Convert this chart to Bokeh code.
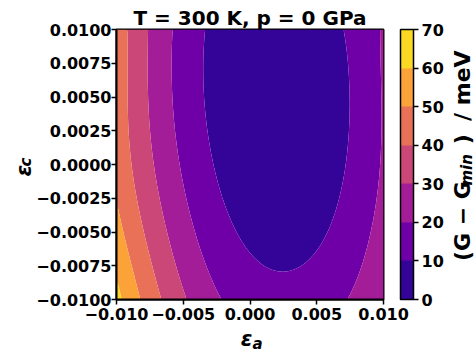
import math
import numpy as np
from bokeh.plotting import figure
from bokeh.layouts import row, column
from bokeh.models import FixedTicker, LinearColorMapper, ColorBar, Range1d
from bokeh.palettes import Plasma256
from bokeh.core.properties import value
from bokeh.embed import file_html
from bokeh.resources import INLINE

# ---- data (G - Gmin in meV on a coarse strain grid) ----
eps_a = [-0.01, -0.0075, -0.005, -0.0025, 0.0, 0.0025, 0.005, 0.0075, 0.01]
eps_c = [-0.01, -0.005, 0.0, 0.005, 0.01]
dG_c_m0100 = [63.0, 45.5, 30.8, 21.4, 15.3, 13.1, 15.0, 20.8, 28.8]
dG_c_m0050 = [53.5, 37.4, 23.8, 14.0, 8.1, 6.3, 8.4, 14.5, 24.0]
dG_c_p0000 = [47.3, 31.8, 18.7, 9.2, 3.6, 2.1, 4.6, 11.0, 21.2]
dG_c_p0050 = [46.0, 29.2, 16.2, 7.0, 1.8, 0.6, 3.4, 10.1, 20.8]
dG_c_p0100 = [45.8, 29.0, 16.4, 7.5, 2.6, 1.7, 4.8, 11.8, 21.0]

levels = [0, 10, 20, 30, 40, 50, 60, 70]
x_ticks = [-0.01, -0.005, 0.0, 0.005, 0.01]
x_tick_labels = ["\u22120.010", "\u22120.005", "0.000", "0.005", "0.010"]
y_ticks = [-0.01, -0.0075, -0.005, -0.0025, 0.0, 0.0025, 0.005, 0.0075, 0.01]
y_tick_labels = ["\u22120.0100", "\u22120.0075", "\u22120.0050", "\u22120.0025", "0.0000",
                 "0.0025", "0.0050", "0.0075", "0.0100"]
title_text = "T = 300 K, p = 0 GPa"

# ---- smooth resampling of the coarse grid for contouring ----
xa = np.array(eps_a)
yc = np.array(eps_c)
Z = np.array([dG_c_m0100, dG_c_m0050, dG_c_p0000, dG_c_p0050, dG_c_p0100])
xf = np.linspace(-0.01, 0.01, 241)
yf = np.linspace(-0.01, 0.01, 241)


def resample(c, f, deg):
    s = 0.01
    Vc = np.vander(c / s, deg + 1)
    Vf = np.vander(f / s, deg + 1)
    return Vf @ np.linalg.pinv(Vc)


Zf = resample(yc, yf, 4) @ Z @ resample(xa, xf, 4).T
Zf = np.clip(Zf, 0.05, 69.9)

# plasma colours at the middle of each contour layer (matplotlib contourf style)
n_layers = len(levels) - 1
colors = [Plasma256[int((k + 0.5) / n_layers * 256)] for k in range(n_layers)]

FONT = "DejaVu Sans"
W, H = 474, 355
LEFT_W = 32          # strip holding the y label
RIGHT_W = 28         # strip holding the colour-bar label
MAIN_H = 327         # main figure height; the x label strip sits below it
MAIN_W = W - LEFT_W - RIGHT_W
BL, BT = 116 - LEFT_W, 29
BR = MAIN_W - BL - 269
BB = MAIN_H - BT - 270

p = figure(width=MAIN_W, height=MAIN_H, x_range=Range1d(-0.01, 0.01), y_range=Range1d(-0.01, 0.01),
           output_backend="svg", toolbar_location=None,
           min_border_left=BL, min_border_right=BR, min_border_top=BT, min_border_bottom=BB)
p.grid.visible = False
p.outline_line_color = "black"
p.outline_line_width = 2
p.background_fill_color = "white"
p.border_fill_color = "white"

p.title.text = title_text
p.title.text_font = FONT
p.title.text_font_size = "20px"
p.title.text_font_style = "bold"
p.title.text_color = "black"
p.title.align = "center"
p.title.standoff = 0

p.contour(xf, yf, Zf, levels, fill_color=colors, line_color=None)

for ax, ticks, labels in ((p.xaxis[0], x_ticks, x_tick_labels), (p.yaxis[0], y_ticks, y_tick_labels)):
    ax.ticker = FixedTicker(ticks=ticks)
    ax.major_label_overrides = {t: s for t, s in zip(ticks, labels)}
    ax.major_label_text_font = FONT
    ax.major_label_text_font_size = "16px"
    ax.major_label_text_font_style = "bold"
    ax.major_label_text_color = "black"
    ax.major_tick_out = 5
    ax.major_tick_in = 0
    ax.major_tick_line_width = 1.5
    ax.major_tick_line_color = "black"
    ax.minor_tick_line_color = None
    ax.axis_line_width = 2
    ax.axis_line_color = "black"
    ax.major_label_standoff = 3
p.yaxis[0].major_label_standoff = 0

mapper = LinearColorMapper(palette=colors, low=levels[0], high=levels[-1])
cb = ColorBar(color_mapper=mapper, ticker=FixedTicker(ticks=levels),
              width=13, height=270, location=(17, 0), padding=0, margin=0,
              major_label_text_font=FONT, major_label_text_font_size="16px",
              major_label_text_font_style="bold", major_label_text_color="black",
              major_tick_out=5, major_tick_in=0, major_tick_line_color="black",
              major_tick_line_width=1.5, minor_tick_line_color=None,
              bar_line_color="black", bar_line_width=1.5, label_standoff=3,
              border_line_color=None, background_fill_color=None)
p.add_layout(cb, "right")


def text_strip(w, h):
    f = figure(width=w, height=h, x_range=Range1d(0, w), y_range=Range1d(h, 0),
               output_backend="svg", toolbar_location=None, x_axis_type=None, y_axis_type=None,
               min_border=0, min_border_left=0, min_border_right=0, min_border_top=0,
               min_border_bottom=0)
    f.grid.visible = False
    f.outline_line_color = None
    f.background_fill_color = "white"
    f.border_fill_color = "white"
    return f


def txt(f, s, x, y, size, style="bold", angle=0.0, align="center"):
    f.text(x=[x], y=[y], text=[s], text_font=value(FONT), text_font_size=value(size),
           text_font_style=value(style), text_color="black", angle=angle,
           text_align=value(align), text_baseline=value("alphabetic"))


# y label  eps_c  (rotated, reads upwards)
left = text_strip(LEFT_W, MAIN_H)
txt(left, "\u03b5", 23, 178, "21px", style="bold italic", angle=math.pi / 2, align="left")
txt(left, "c", 25, 166, "15px", style="bold italic", angle=math.pi / 2, align="left")

# colour-bar label  (G - G_min) / meV  (rotated, reads upwards)
right = text_strip(RIGHT_W, MAIN_H)
ox = W - RIGHT_W
txt(right, "(G \u2212 G", 462 - ox, 232, "22px", angle=math.pi / 2)
txt(right, "min", 466 - ox, 170, "15px", style="bold italic", angle=math.pi / 2)
txt(right, ")", 462 - ox, 133, "22px", angle=math.pi / 2)
txt(right, "/ meV", 462 - ox, 68, "22px", angle=math.pi / 2)

# x label  eps_a
bottom = text_strip(W, H - MAIN_H)
txt(bottom, "\u03b5", 252, 338 - MAIN_H, "21px", style="bold italic", align="right")
txt(bottom, "a", 252, 343 - MAIN_H, "15px", style="bold italic", align="left")

layout = column(row(left, p, right), bottom)
open("out.html", "w").write(file_html(layout, INLINE))
